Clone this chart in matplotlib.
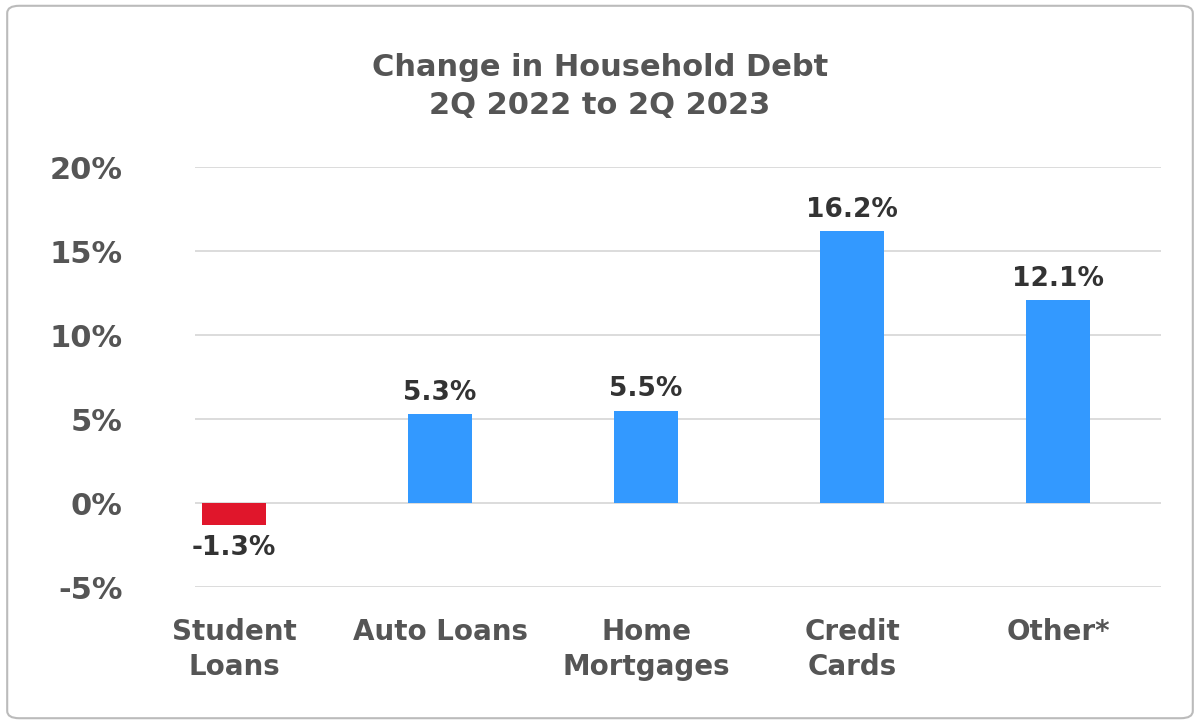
import matplotlib
matplotlib.use("Agg")
import matplotlib.pyplot as plt
from matplotlib.patches import FancyBboxPatch

categories = ["Student\nLoans", "Auto Loans", "Home\nMortgages", "Credit\nCards", "Other*"]
values = [-1.3, 5.3, 5.5, 16.2, 12.1]
labels = ["-1.3%", "5.3%", "5.5%", "16.2%", "12.1%"]
yticks = [-5, 0, 5, 10, 15, 20]

plt.rcParams['font.family'] = ['DejaVu Sans']
gray = "#555555"
fig = plt.figure(figsize=(12, 7.24), dpi=100)
fig.patches.append(FancyBboxPatch((0.006, 0.008), 0.988, 0.984, boxstyle="round,pad=0,rounding_size=0.01",
                                  transform=fig.transFigure, fill=False, edgecolor="#bbbbbb", lw=1.5))
ax = fig.add_axes([0.1625, 0.189, 0.805, 0.58])
colors = ["#E0162B" if v < 0 else "#3399FF" for v in values]
x = range(len(values))
ax.bar(x, values, width=0.31, color=colors, zorder=3)
for i, (v, l) in enumerate(zip(values, labels)):
    ax.text(i, v + (0.5 if v >= 0 else -0.6), l, ha="center", va="bottom" if v >= 0 else "top",
            fontsize=19, fontweight="bold", color="#333333")
ax.set_ylim(-5, 20)
ax.set_xlim(-0.19, 4.5)
ax.set_yticks(yticks)
ax.set_yticklabels([f"{t}%" for t in yticks], fontsize=22, fontweight="bold", color=gray)
ax.set_xticks(list(x))
ax.set_xticklabels(categories, fontsize=20, fontweight="bold", color=gray, linespacing=1.35)
ax.tick_params(axis='y', length=0, pad=52)
ax.tick_params(axis='x', length=0, pad=22)
ax.grid(axis="y", color="#d9d9d9", lw=1.3, zorder=0)
for s in ax.spines.values():
    s.set_visible(False)
fig.text(0.5, 0.88, "Change in Household Debt\n2Q 2022 to 2Q 2023", ha="center", va="center",
         fontsize=22, fontweight="bold", color=gray, linespacing=1.4)
fig.savefig("out.png", dpi=100)
